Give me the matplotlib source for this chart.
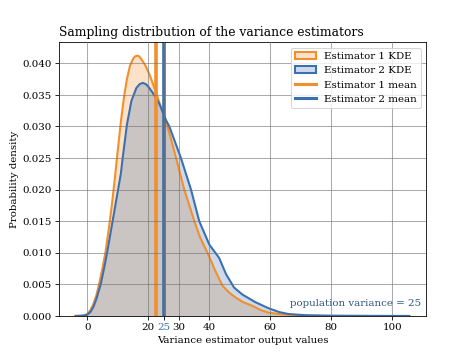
import numpy as np
import matplotlib
matplotlib.use("Agg")
import matplotlib.pyplot as plt
from matplotlib.patches import Patch
from matplotlib.lines import Line2D

plt.rcParams.update({"font.family": "serif", "font.serif": ["DejaVu Serif"]})

# curves
est1_x = [-4.0, -2.0, -1.0, 0.0, 1.0, 2.0, 3.0, 4.0, 5.0, 6.0, 7.0, 8.0, 9.0,
          10.0, 11.0, 12.0, 13.0, 14.0, 15.0, 15.7, 16.4, 17.0, 17.8, 19.0,
          20.5, 22.0, 23.7, 26.0, 27.5, 29.1, 31.8, 35.1, 37.0, 39.4, 42.0,
          44.3, 46.5, 48.7, 51.0, 54.1, 57.0, 59.5, 63.0, 66.0, 72.0, 80.0,
          92.0]
est1_y = [0.0, 0.00003, 0.0001, 0.0003, 0.0009, 0.0019, 0.0033, 0.0053,
          0.0076, 0.0102, 0.0136, 0.0173, 0.0216, 0.0262, 0.0307, 0.0345,
          0.0375, 0.0396, 0.0407, 0.0411, 0.0412, 0.0411, 0.0406, 0.0397,
          0.0381, 0.0361, 0.0337, 0.0305, 0.0279, 0.0250, 0.0200, 0.0150,
          0.0124, 0.0100, 0.0071, 0.0048, 0.0037, 0.0029, 0.0022, 0.0016,
          0.0009, 0.0005, 0.0003, 0.0002, 0.00005, 0.00001, 0.0]

est2_x = [-3.7, -2.0, -1.0, 0.0, 1.0, 2.0, 3.0, 4.4, 5.5, 6.5, 7.4, 8.3, 9.2,
          10.1, 11.0, 11.6, 13.0, 14.5, 16.1, 17.2, 18.2, 19.2, 20.0, 21.5,
          23.7, 25.9, 26.9, 28.8, 30.7, 34.0, 36.7, 40.0, 43.2, 45.5, 48.1,
          50.8, 55.0, 59.5, 63.0, 66.0, 72.0, 80.0, 90.0, 105.6]
est2_y = [0.0, 0.00002, 0.00007, 0.0002, 0.0006, 0.0014, 0.0027, 0.0050,
          0.0075, 0.0100, 0.0125, 0.0150, 0.0175, 0.0200, 0.0225, 0.0250,
          0.0303, 0.0341, 0.0361, 0.0367, 0.0369, 0.0367, 0.0363, 0.0353,
          0.0335, 0.0309, 0.0300, 0.0275, 0.0250, 0.0200, 0.0150, 0.0113,
          0.0092, 0.0066, 0.0045, 0.0034, 0.0022, 0.0012, 0.0006, 0.0003,
          0.0001, 0.00003, 0.00001, 0.0]

est1_mean = 22.5
est2_mean = 25.0
pop_var = 25
xticks = [0, 20, 25, 30, 40, 60, 80, 100]

C1 = "#f28e2b"
C2 = "#3a6fb0"

fig, ax = plt.subplots(figsize=(6.4, 4.8), dpi=74)

ax.fill_between(est1_x, est1_y, color=C1, alpha=0.25, lw=0)
ax.plot(est1_x, est1_y, color=C1, lw=2)
ax.fill_between(est2_x, est2_y, color=C2, alpha=0.25, lw=0)
ax.plot(est2_x, est2_y, color=C2, lw=2)

ax.axvline(est1_mean, color=C1, lw=3.5)
ax.axvline(est2_mean, color=C2, lw=3.5)

ax.set_xlim(-9.2, 111.1)
ax.set_ylim(0, 0.0433)
ax.set_xticks(xticks)
ax.set_yticks(np.arange(0, 0.0401, 0.005))
ax.yaxis.set_major_formatter(matplotlib.ticker.FormatStrFormatter("%.3f"))
ax.get_xticklabels()[xticks.index(pop_var)].set_color(C2)
ax.grid(True, color="0.45", alpha=0.6, lw=1)
ax.set_axisbelow(False)

ax.text(0.985, 0.03, "population variance = %d" % pop_var, color="#2f5487",
        transform=ax.transAxes, ha="right", va="bottom", fontsize=10)

ax.set_title("Sampling distribution of the variance estimators", loc="left",
             fontsize=12)
ax.set_xlabel("Variance estimator output values")
ax.set_ylabel("Probability density")

handles = [
    Patch(facecolor=matplotlib.colors.to_rgba(C1, 0.25), edgecolor=C1, lw=2),
    Patch(facecolor=matplotlib.colors.to_rgba(C2, 0.25), edgecolor=C2, lw=2),
    Line2D([], [], color=C1, lw=3),
    Line2D([], [], color=C2, lw=3),
]
labels = ["Estimator 1 KDE", "Estimator 2 KDE", "Estimator 1 mean",
          "Estimator 2 mean"]
ax.legend(handles, labels, loc="upper right")

fig.savefig("out.png", dpi=74)
